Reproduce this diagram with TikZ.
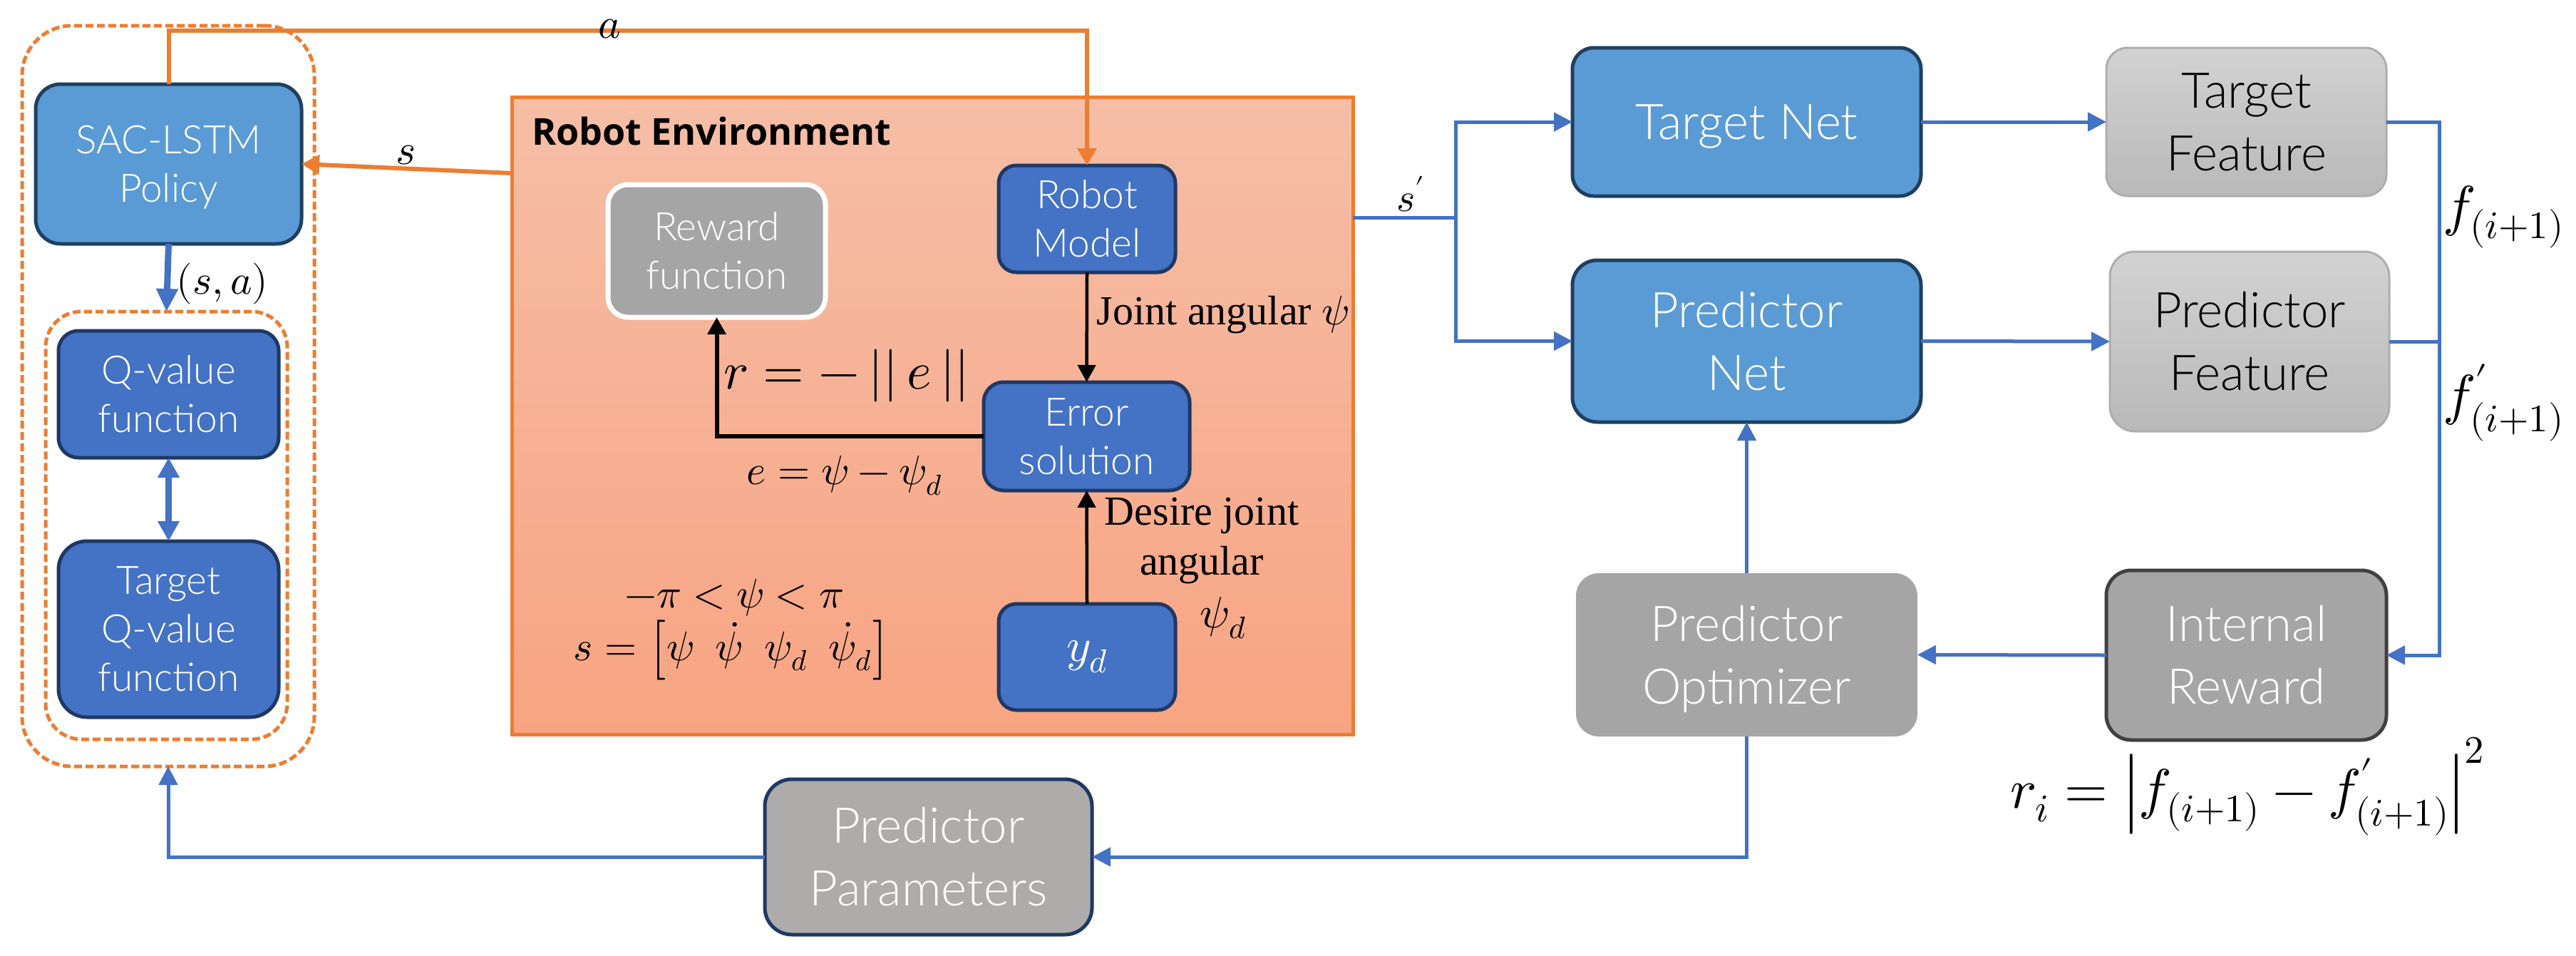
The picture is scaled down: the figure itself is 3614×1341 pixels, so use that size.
\documentclass[tikz,border=0pt]{standalone}
\usepackage{unicode-math}
\setmainfont{Open Sans}
\setmathfont{Latin Modern Math}
\newfontfamily\lite{Lato Light}
\newfontfamily\serf{Liberation Serif}
\usetikzlibrary{arrows.meta,calc}
\definecolor{lb}{HTML}{5B9BD5}
\definecolor{lbd}{HTML}{1F4060}
\definecolor{db}{HTML}{4472C4}
\definecolor{dbd}{HTML}{1F3864}
\definecolor{org}{HTML}{ED7D31}
\definecolor{gry}{HTML}{A5A5A5}
\definecolor{grd}{HTML}{404040}
\definecolor{envt}{HTML}{F6BEA7}
\definecolor{envb}{HTML}{F7A482}
\definecolor{ft}{HTML}{D2D2D2}
\definecolor{fb}{HTML}{B9B9B9}
\definecolor{par}{HTML}{AEABAB}
\newcommand{\lbl}[2]{\fontsize{#1}{#2}\selectfont}
\tikzset{
 x=1pt,y=-1pt,
 box/.style={rounded corners=#1,line width=5pt,text=white,align=center,inner sep=0pt,outer sep=0pt,anchor=north west},
 st/.style={font=\lite\lbl{55}{68}},
 rt/.style={font=\lite\lbl{69}{88}},
 lblue/.style={box=#1,fill=lb,draw=lbd},
 dblue/.style={box=#1,fill=db,draw=dbd},
 bl/.style={draw=db,line width=5pt,-{Triangle[length=26pt,width=26pt]}},
 bln/.style={draw=db,line width=5pt},
 ol/.style={draw=org,line width=6pt},
 ola/.style={ol,-{Triangle[length=25pt,width=27pt]}},
 dsh/.style={draw=org,line width=5pt,dash pattern=on 11pt off 5pt,rounded corners=#1,inner sep=0pt,outer sep=0pt,anchor=north west},
 kl/.style={draw=black,line width=4.5pt,-{Triangle[length=24pt,width=25pt]}},
 tx/.style={inner sep=0pt,outer sep=0pt,text=black},
}
\newcommand{\bx}[7]{\node[#2,minimum width=#5-#3,minimum height=#6-#4] (#1) at (#3,#4) {#7};}
\begin{document}
\begin{tikzpicture}
\useasboundingbox (0,0) rectangle (3614,1341);
\fill[white] (0,0) rectangle (3614,1341);
% environment
\node[anchor=north west,minimum width=1180,minimum height=894,inner sep=0pt,outer sep=0pt,draw=org,line width=5pt,top color=envt,bottom color=envb] (env) at (718,136) {};
\node[tx,anchor=base west,font=\bfseries\lbl{52}{54}] (envt1) at (746,203) {Robot Environment};
% left column
\bx{outer}{dsh=70}{31}{36}{441}{1075}{}
\bx{inner}{dsh=50}{64}{437}{403}{1037}{}
\bx{sac}{lblue=35,st,text depth=0pt}{50}{118}{423}{342}{SAC-LSTM\\Policy}
\bx{q}{dblue=28,st}{82}{464}{391}{642}{Q-value\\function}
\bx{tq}{dblue=40,st}{82}{759}{391}{1006}{Target\\Q-value\\function}
% environment boxes
\bx{rew}{box=28,st,fill=gry,draw=white,line width=7pt}{853}{259}{1158}{445}{Reward\\function}
\bx{robot}{dblue=25,st}{1401}{232}{1649}{382}{Robot\\Model}
\bx{err}{dblue=28,st}{1380}{536}{1669}{688}{Error\\solution}
\bx{yd}{dblue=25,text=white,font=\lbl{66}{70}}{1401}{847}{1649}{996}{$y_d$}
% right part
\bx{tn}{lblue=30,rt,text depth=0pt}{2206}{67}{2695}{275}{Target Net}
\bx{pn}{lblue=35,rt}{2206}{365}{2695}{592}{Predictor\\Net}
\bx{tf}{box=30,rt,text=black,top color=ft,bottom color=fb,draw=gry!90!white,line width=3pt}{2955}{67}{3348}{275}{Target\\Feature}
\bx{pf}{box=35,rt,text=black,top color=ft,bottom color=fb,draw=gry!90!white,line width=3pt}{2960}{353}{3352}{605}{Predictor\\Feature}
\bx{opt}{box=32,rt,fill=gry,draw=none,text depth=0pt}{2211}{804}{2690}{1033}{Predictor\\Optimizer}
\bx{ir}{box=35,rt,fill=gry,draw=grd}{2955}{800}{3348}{1038}{Internal\\Reward}
\bx{pp}{box=38,rt,fill=par,draw=dbd}{1073}{1093}{1532}{1311}{Predictor\\Parameters}
% orange connectors
\draw[ol,-{Triangle[length=24pt,width=26pt]}] (sac.north) -- (sac.north |- 0,43) -- (robot.north |- 0,43) -- (robot.north);
\draw[ola] (env.west |- 0,243) -- (sac.east);
% left blue
\draw[draw=db,line width=9pt,-{Triangle[length=32pt,width=29pt]}] (sac.south) -- (inner.north);
\draw[draw=db,line width=9pt,{Triangle[length=28pt,width=29pt]}-{Triangle[length=28pt,width=29pt]}] (q.south) -- (tq.north);
% black
\draw[kl] (robot.south) -- (err.north);
\draw[kl] (yd.north) -- (err.south);
\draw[kl,line width=6pt] (err.west) -| (rew.south);
% blue network
\coordinate (j) at (2042,305);
\draw[bln] (env.east |- j) -- (j);
\draw[bl] (j) |- (tn.west);
\draw[bl] (j) |- (pn.west);
\draw[bl] (tn.east) -- (tf.west);
\draw[bl] (pn.east) -- (pf.west);
\coordinate (bus) at (3422,479);
\draw[bln] (pf.east) -- (bus);
\draw[bl] (tf.east) -| (bus) |- (ir.east);
\draw[bl] (ir.west) -- (opt.east);
\draw[bl] (opt.north) -- (pn.south);
\draw[bl] (opt.south) |- (pp.east);
\draw[bl] (pp.west) -| (outer.south);
% math labels
\node[tx,font=\lbl{60}{60}] (la) at (855,41) {$a$};
\node[tx,font=\lbl{60}{60}] (ls) at (570,218) {$s$};
\node[tx,font=\lbl{58}{60}] (lsa) at (312,398) {$(s,a)$};
\node[tx,font=\lbl{56}{60}] (lsp) at (1979,272) {$s'$};
\node[tx,font=\serf\lbl{58}{60}] (lj) at (1716,442) {Joint angular $\psi$};
\node[tx,font=\serf\lbl{58}{70},align=center] (ld) at (1686,759) {Desire joint\\angular};
\node[tx,font=\lbl{62}{60}] (lpd) at (1716,867) {$\psi_d$};
\node[tx,font=\lbl{74}{80}] (lr) at (1188,527) {$r={-}\,||\,e\,||$};
\node[tx,font=\lbl{58}{60}] (le) at (1185,667) {$e=\psi-\psi_d$};
\node[tx,font=\lbl{58}{60}] (lpi) at (1030,838) {$-\pi<\psi<\pi$};
\node[tx,font=\lbl{58}{60}] (lst) at (1027,912) {$s=\left[\psi\ \ \dot{\psi}\ \ \psi_d\ \ \dot{\psi}_d\right]$};
\node[tx,font=\lbl{78}{60}] (lf) at (3512,304) {$f_{(i+1)}$};
\node[tx,font=\lbl{78}{60}] (lfp) at (3512,565) {$f'_{(i+1)}$};
\node[tx,font=\lbl{78}{70}] (lri) at (3153,1103) {$r_i=\left|f_{(i+1)}-f'_{(i+1)}\right|^2$};
\end{tikzpicture}
\end{document}
